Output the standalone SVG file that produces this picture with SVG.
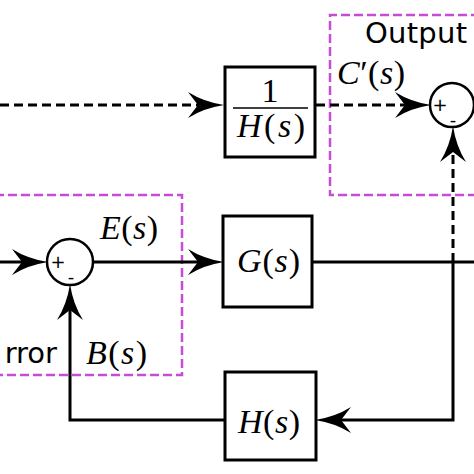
<svg xmlns="http://www.w3.org/2000/svg" width="474" height="474" viewBox="0 0 474 474">
<defs>
<marker id="arr" markerUnits="userSpaceOnUse" orient="auto" refX="25" refY="0" markerWidth="40" markerHeight="30" overflow="visible">
<path d="M0,-13 Q16,-3 36,0 Q16,3 0,13 L10,0 Z" fill="#000"/>
</marker>
<style>
.ln{fill:none;stroke:#000;stroke-width:3}
.dash{stroke-dasharray:9,5}
.grp{fill:none;stroke:#c84bd8;stroke-width:2.5;stroke-dasharray:9,4}
.box{fill:#fff;stroke:#000;stroke-width:3}
.sum{fill:#fff;stroke:#000;stroke-width:2.5}
.m{font-family:"Liberation Serif",serif;font-size:34px;fill:#000}
.i{font-style:italic}
.t{font-family:"DejaVu Sans",sans-serif;font-size:29px;fill:#000}
.s{font-family:"DejaVu Sans",sans-serif;font-size:18px;fill:#000;text-anchor:middle}
</style>
</defs>
<rect width="474" height="474" fill="#fff"/>
<g id="groups">
<path class="grp" d="M480,15 H330 V195 H480"/>
<path class="grp" d="M-5,195 H182 V375 H-5"/>
<text class="t" x="365" y="43" textLength="102" lengthAdjust="spacing">Output</text>
<text class="t" x="57" y="363" text-anchor="end">rror</text>
</g>
<g id="connectors">
<path class="ln dash" d="M0,105 H213" marker-end="url(#arr)"/>
<path class="ln dash" d="M316,105 H420" marker-end="url(#arr)"/>
<path class="ln dash" d="M453,262 V137" marker-end="url(#arr)"/>
<path class="ln" d="M312,262 H474"/>
<path class="ln" d="M453,262 V420 H326" marker-end="url(#arr)"/>
<path class="ln" d="M0,262 H37" marker-end="url(#arr)"/>
<path class="ln" d="M93,262 H213" marker-end="url(#arr)"/>
<path class="ln" d="M225,420 H70 V295" marker-end="url(#arr)"/>
</g>
<g id="invH">
<rect class="box" x="225" y="67" width="90" height="90"/>
<text class="m" x="270" y="102" text-anchor="middle" font-size="23">1</text>
<line x1="233" y1="108" x2="308" y2="108" stroke="#000" stroke-width="1.6"/>
<text class="m" x="237" y="137" textLength="68" lengthAdjust="spacing"><tspan class="i">H</tspan>(<tspan class="i">s</tspan>)</text>
</g>
<g id="sumOut">
<circle class="sum" cx="452" cy="105" r="22"/>
<text class="s" x="440" y="111">+</text>
<text class="s" x="453" y="126">-</text>
</g>
<g id="sumErr">
<circle class="sum" cx="70" cy="262" r="23"/>
<text class="s" x="58" y="268">+</text>
<text class="s" x="71" y="283">-</text>
</g>
<g id="G">
<rect class="box" x="223" y="216" width="89" height="91"/>
<text class="m" x="237" y="272" textLength="63" lengthAdjust="spacing"><tspan class="i">G</tspan>(<tspan class="i">s</tspan>)</text>
</g>
<g id="H">
<rect class="box" x="225" y="372" width="91" height="88"/>
<text class="m" x="238" y="433" textLength="62" lengthAdjust="spacing"><tspan class="i">H</tspan>(<tspan class="i">s</tspan>)</text>
</g>
<g id="labels">
<text class="m" x="337" y="84" textLength="68" lengthAdjust="spacing"><tspan class="i">C</tspan>′(<tspan class="i">s</tspan>)</text>
<text class="m" x="100" y="239" textLength="58" lengthAdjust="spacing"><tspan class="i">E</tspan>(<tspan class="i">s</tspan>)</text>
<text class="m" x="86" y="364" textLength="61" lengthAdjust="spacing"><tspan class="i">B</tspan>(<tspan class="i">s</tspan>)</text>
</g>
</svg>
